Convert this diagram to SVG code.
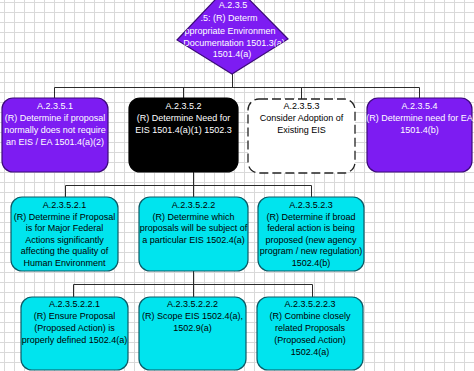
<svg xmlns="http://www.w3.org/2000/svg" width="474" height="371" viewBox="0 0 474 371">
<defs>
<pattern id="grid" width="10" height="10" patternUnits="userSpaceOnUse" x="4" y="2">
<path d="M0 0.5H10M0.5 0V10" fill="none" stroke="#d9d9d9" stroke-width="1"/>
</pattern>
<clipPath id="dclip"><polygon points="232,-18 288,39 232,74 177,40"/></clipPath>
<style>
text{font-family:"Liberation Sans",Arial,sans-serif;font-size:9px;text-anchor:middle}
.w{fill:#ffffff}
.k{fill:#000000}
.purple{fill:#7d1cf2;stroke:#3c0a7a;stroke-width:1.2}
.black{fill:#000000;stroke:#000000;stroke-width:1.2}
.dash{fill:#ffffff;stroke:#222222;stroke-width:1.3;stroke-dasharray:9 4}
.cyan{fill:#00e4ee;stroke:#0a5a66;stroke-width:1.2}
.conn{fill:none;stroke:#2a2a2a;stroke-width:1}
</style>
</defs>
<rect width="474" height="371" fill="#ffffff"/>
<rect width="474" height="371" fill="url(#grid)"/>

<g id="connectors" class="conn">
<path d="M232.5 74V87.5M54.5 87.5H419.5M54.5 87.5V98M183.5 87.5V98M301.5 87.5V99M419.5 87.5V98"/>
<path d="M193.5 172V185.5M65.5 185.5H311.5M65.5 185.5V197M193.5 185.5V197M311.5 185.5V197"/>
<path d="M193.5 271V284.5M73.5 284.5H312.5M73.5 284.5V297M193.5 284.5V297M312.5 284.5V297"/>
</g>

<g id="n-A2355">
<polygon class="purple" points="232,-18 288,39 232,74 177,40"/>
<g clip-path="url(#dclip)">
<text class="w" x="233" y="7.5">A.2.3.5</text>
<text class="w" x="229" y="21">.5: (R) Determ</text>
<text class="w" x="230" y="33.5">ppropriate Environmen</text>
<text class="w" x="234" y="46">Documentation  1501.3(a)</text>
<text class="w" x="232" y="57">1501.4(a)</text>
</g>
</g>

<g id="n-A2351">
<rect class="purple" x="2" y="98" width="106" height="74" rx="11"/>
<text class="w" x="55" y="108.5">A.2.3.5.1</text>
<text class="w" x="55" y="120.5">(R) Determine if proposal</text>
<text class="w" x="55" y="132.5">normally does not require</text>
<text class="w" x="55" y="144.5">an EIS / EA 1501.4(a)(2)</text>
</g>

<g id="n-A2352">
<rect class="black" x="129" y="98" width="109" height="74" rx="11"/>
<text class="w" x="183.5" y="108.5">A.2.3.5.2</text>
<text class="w" x="183.5" y="120.5">(R) Determine Need for</text>
<text class="w" x="183.5" y="132.5">EIS 1501.4(a)(1) 1502.3</text>
</g>

<g id="n-A2353">
<rect class="dash" x="248" y="99" width="107" height="74" rx="11"/>
<text class="k" x="301.5" y="108.5">A.2.3.5.3</text>
<text class="k" x="301.5" y="120.5">Consider Adoption of</text>
<text class="k" x="301.5" y="132.5">Existing EIS</text>
</g>

<g id="n-A2354">
<rect class="purple" x="367" y="98" width="105" height="74" rx="11"/>
<text class="w" x="419.5" y="108.5">A.2.3.5.4</text>
<text class="w" x="419.5" y="120.5">(R) Determine need for EA</text>
<text class="w" x="419.5" y="132.5">1501.4(b)</text>
</g>

<g id="n-A23521">
<rect class="cyan" x="11" y="197" width="107" height="74" rx="11"/>
<text class="k" x="64.5" y="208">A.2.3.5.2.1</text>
<text class="k" x="64.5" y="219.5">(R) Determine if Proposal</text>
<text class="k" x="64.5" y="231">is for Major Federal</text>
<text class="k" x="64.5" y="242.5">Actions significantly</text>
<text class="k" x="64.5" y="254">affecting the quality of</text>
<text class="k" x="64.5" y="265.5">Human Environment</text>
</g>

<g id="n-A23522">
<rect class="cyan" x="139" y="197" width="109" height="74" rx="11"/>
<text class="k" x="193.5" y="208">A.2.3.5.2.2</text>
<text class="k" x="193.5" y="219.5">(R) Determine which</text>
<text class="k" x="193.5" y="231">proposals will be subject of</text>
<text class="k" x="193.5" y="242.5">a particular EIS 1502.4(a)</text>
</g>

<g id="n-A23523">
<rect class="cyan" x="258" y="197" width="106" height="74" rx="11"/>
<text class="k" x="311" y="208">A.2.3.5.2.3</text>
<text class="k" x="311" y="219.5">(R) Determine if broad</text>
<text class="k" x="311" y="231">federal action is being</text>
<text class="k" x="311" y="242.5">proposed (new agency</text>
<text class="k" x="311" y="254">program / new regulation)</text>
<text class="k" x="311" y="265.5">1502.4(b)</text>
</g>

<g id="n-A235221">
<rect class="cyan" x="21" y="297" width="107" height="73" rx="11"/>
<text class="k" x="74.5" y="306.5">A.2.3.5.2.2.1</text>
<text class="k" x="74.5" y="318.5">(R) Ensure Proposal</text>
<text class="k" x="74.5" y="330.5">(Proposed Action) is</text>
<text class="k" x="74.5" y="342.5">properly defined 1502.4(a)</text>
</g>

<g id="n-A235222">
<rect class="cyan" x="139" y="297" width="107" height="73" rx="11"/>
<text class="k" x="192.5" y="306.5">A.2.3.5.2.2.2</text>
<text class="k" x="192.5" y="318.5">(R) Scope  EIS 1502.4(a),</text>
<text class="k" x="192.5" y="330.5">1502.9(a)</text>
</g>

<g id="n-A235223">
<rect class="cyan" x="257" y="297" width="106" height="73" rx="11"/>
<text class="k" x="310" y="306.5">A.2.3.5.2.2.3</text>
<text class="k" x="310" y="318.5">(R) Combine closely</text>
<text class="k" x="310" y="330.5">related Proposals</text>
<text class="k" x="310" y="342.5">(Proposed Action)</text>
<text class="k" x="310" y="354.5">1502.4(a)</text>
</g>
</svg>
